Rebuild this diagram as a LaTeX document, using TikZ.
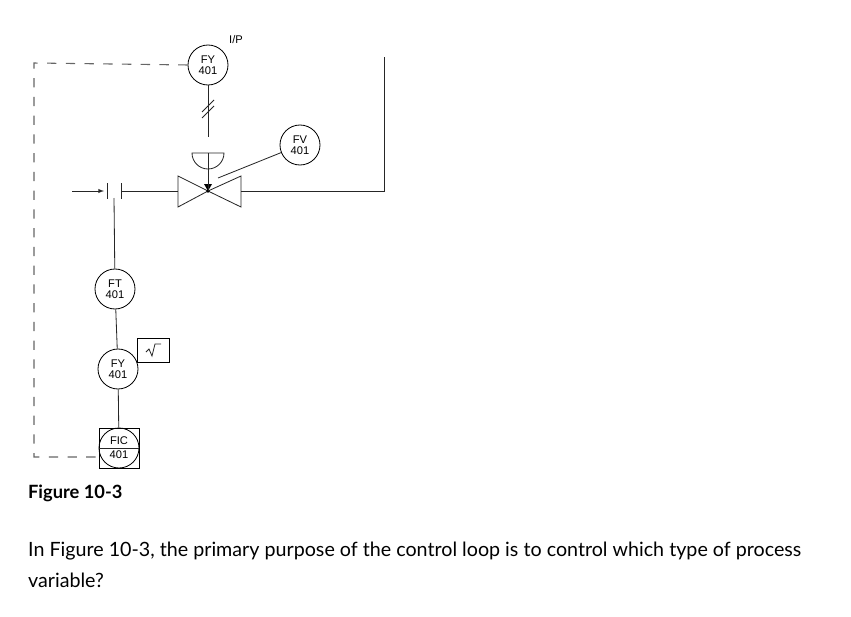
\documentclass[tikz,border=0pt]{standalone}
\usepackage{fontspec}
\setmainfont{Lato}
\newfontfamily\lab{Liberation Sans}
\begin{document}
\begin{tikzpicture}[x=0.03cm,y=-0.03cm,
  inst/.style={circle,draw,line width=0.7pt,minimum size=40*0.03cm,inner sep=0pt,font=\lab\fontsize{9.5}{10}\selectfont,align=center},
  ln/.style={line width=0.7pt,black!85},
  dsh/.style={line width=0.9pt,black!60,dash pattern=on 8pt off 8pt}]
\useasboundingbox (0,0) rectangle (851,616);
\node[inst] (fy1) at (208,65) {FY\\[-1pt]401};
\node[font=\lab\fontsize{9.5}{10}\selectfont] (ip) at (236,40) {I/P};
\node[inst] (fv) at (300,145) {FV\\[-1pt]401};
\node[inst] (ft) at (115,289) {FT\\[-1pt]401};
\node[inst] (fy2) at (118,369) {FY\\[-1pt]401};
\node[draw,line width=0.7pt,minimum width=32*0.03cm,minimum height=24*0.03cm,inner sep=0pt] (sq) at (153,350) {};
\draw[ln] (146,352) -- (149,349) -- (152,356) -- (155,344) -- (161,344);
\node[draw,line width=0.7pt,minimum size=40*0.03cm,inner sep=0pt] (ficb) at (119,448) {};
\node[inst] (fic) at (119,448) {FIC\\[2pt]401};
\draw[ln] (fic.west) -- (fic.east);
% valve
\coordinate (vc) at (208,191);
\draw[ln] (vc) -- (178,176) -- (178,207) -- cycle;
\draw[ln] (vc) -- (241,176) -- (241,207) -- cycle;
\fill (vc) -- (204,184) -- (212,184) -- cycle;
\fill (vc) circle (1.5pt);
% actuator
\draw[ln] (192,153) arc (180:0:16) -- cycle;
\coordinate (act) at (208,137);
\draw[ln] (fy1) -- (act);
\draw[ln] (202,112) -- (214,100) (202,118) -- (214,106);
\draw[ln] (208,153) -- (vc);
\draw[ln] (fv) -- (218,178);
% pipes
\coordinate (pr) at (384,191);
\coordinate (pt) at (384,57);
\draw[ln] (241,191) -- (pr) -- (pt);
\draw[ln] (178,191) -- (121,191);
\draw[ln] (107,183) -- (107,199) (121,183) -- (121,199);
\coordinate (ain) at (72,191);
\draw[ln,-latex] (ain) -- (104,191);
\draw[ln] (114,198) -- (ft);
\draw[ln] (ft) -- (fy2);
\draw[ln] (fy2) -- (fic);
% dashed signal
\coordinate (c1) at (34,63);
\coordinate (c2) at (34,457);
\draw[dsh] (fy1.west) -- (c1) -- (c2) -- (ficb.west |- 0,457);
\node[anchor=west,font=\bfseries\fontsize{15.6}{17}\selectfont] (fig) at (24,493) {Figure 10-3};
\node[anchor=north west,align=left,font=\fontsize{16.8}{26}\selectfont] (q) at (24,538) {In Figure 10-3, the primary purpose of the control loop is to control which type of process\\variable?};
\end{tikzpicture}
\end{document}
